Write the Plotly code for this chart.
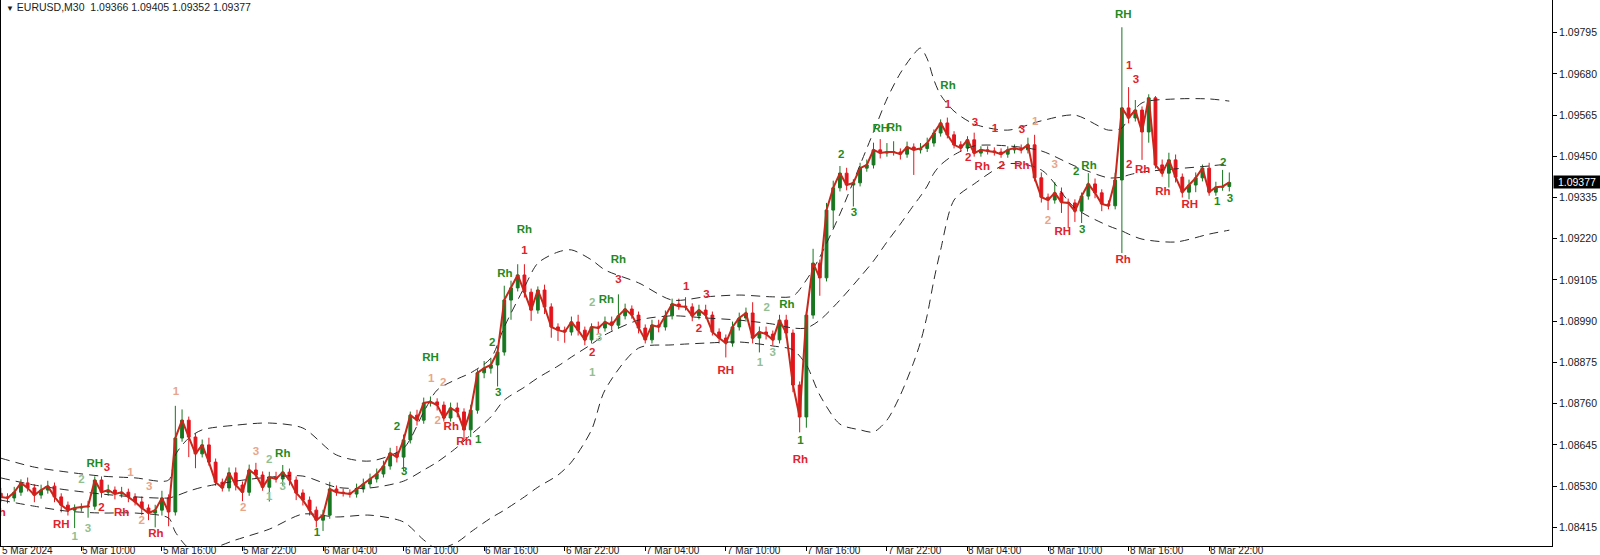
import plotly.graph_objects as go

# ---------------- data ----------------
first_open = 1.08510
closes = [
    1.08500, 1.08497, 1.08513, 1.08539, 1.08525, 1.08505, 1.08519, 1.08530, 1.08500, 1.08477,
    1.08463, 1.08469, 1.08472, 1.08474, 1.08547, 1.08513, 1.08519, 1.08508, 1.08513, 1.08500,
    1.08486, 1.08469, 1.08455, 1.08463, 1.08497, 1.08458, 1.08664, 1.08714, 1.08667, 1.08620,
    1.08645, 1.08597, 1.08541, 1.08525, 1.08567, 1.08533, 1.08513, 1.08575, 1.08561, 1.08527,
    1.08555, 1.08550, 1.08569, 1.08547, 1.08511, 1.08491, 1.08463, 1.08435, 1.08449, 1.08522,
    1.08513, 1.08511, 1.08508, 1.08522, 1.08536, 1.08550, 1.08564, 1.08586, 1.08622, 1.08611,
    1.08659, 1.08728, 1.08714, 1.08762, 1.08765, 1.08756, 1.08720, 1.08748, 1.08737, 1.08687,
    1.08742, 1.08846, 1.08859, 1.08868, 1.08904, 1.09049, 1.09083, 1.09119, 1.09071, 1.09021,
    1.09077, 1.09030, 1.08974, 1.08965, 1.08960, 1.08988, 1.08965, 1.08938, 1.08974, 1.08971,
    1.08988, 1.08979, 1.09005, 1.09024, 1.09007, 1.08971, 1.08938, 1.08979, 1.08974, 1.09005,
    1.09038, 1.09032, 1.09030, 1.09005, 1.09021, 1.09007, 1.08960, 1.08943, 1.08929, 1.08974,
    1.08999, 1.09013, 1.08943, 1.08960, 1.08954, 1.08938, 1.08993, 1.08957, 1.08812, 1.08723,
    1.09007, 1.09152, 1.09111, 1.09300, 1.09362, 1.09403, 1.09370, 1.09376, 1.09417, 1.09426,
    1.09468, 1.09459, 1.09462, 1.09462, 1.09456, 1.09476, 1.09468, 1.09472, 1.09487, 1.09515,
    1.09543, 1.09510, 1.09482, 1.09473, 1.09496, 1.09459, 1.09468, 1.09465, 1.09462, 1.09456,
    1.09468, 1.09473, 1.09468, 1.09482, 1.09390, 1.09336, 1.09328, 1.09348, 1.09322, 1.09320,
    1.09297, 1.09339, 1.09373, 1.09348, 1.09317, 1.09312, 1.09384, 1.09585, 1.09557, 1.09579,
    1.09518, 1.09613, 1.09426, 1.09403, 1.09440, 1.09392, 1.09350, 1.09370, 1.09390, 1.09417,
    1.09350, 1.09364, 1.09366, 1.09377,
]
upper_wick_pips = [
    1.5, 1.0, 1.5, 1.0, 1.5, 1.0, 1.5, 1.5, 1.0, 1.0,
    1.0, 1.0, 1.0, 1.5, 1.0, 1.0, 1.5, 1.0, 1.5, 1.0,
    1.0, 1.5, 1.0, 1.5, 2.0, 1.0, 9.0, 3.0, 1.0, 1.0,
    1.5, 2.0, 1.0, 1.0, 1.5, 1.5, 1.0, 1.5, 2.0, 1.0,
    1.5, 1.5, 2.0, 1.0, 1.0, 1.0, 1.0, 1.0, 1.5, 2.0,
    1.0, 1.0, 1.0, 1.5, 1.5, 1.5, 1.5, 1.5, 1.5, 2.0,
    1.5, 1.0, 1.5, 1.5, 1.5, 1.0, 1.0, 1.5, 1.5, 1.0,
    1.5, 1.0, 2.0, 2.0, 1.5, 4.0, 2.0, 3.0, 3.0, 1.0,
    1.0, 1.5, 1.0, 1.0, 1.0, 1.5, 2.0, 1.0, 1.0, 1.5,
    1.5, 1.5, 6.0, 1.5, 1.0, 1.0, 1.0, 1.5, 1.5, 1.5,
    1.5, 1.5, 2.5, 1.0, 1.5, 1.5, 1.0, 1.0, 1.0, 1.5,
    1.5, 1.5, 3.0, 1.5, 1.5, 1.0, 1.5, 1.5, 1.0, 1.0,
    1.0, 4.0, 1.0, 2.0, 2.0, 2.0, 1.5, 1.0, 1.5, 1.5,
    2.0, 3.0, 2.5, 3.0, 1.0, 1.5, 1.0, 1.5, 1.5, 1.0,
    1.0, 1.5, 1.0, 1.0, 1.0, 2.0, 1.0, 1.0, 1.0, 1.0,
    1.0, 1.0, 1.0, 2.0, 2.8, 1.5, 1.0, 3.0, 1.5, 1.0,
    1.0, 1.0, 3.0, 1.5, 1.0, 1.0, 2.0, 22.5, 5.8, 2.8,
    1.0, 1.0, 0.5, 1.5, 2.0, 1.5, 1.0, 1.5, 1.5, 1.0,
    1.5, 1.5, 4.6, 2.8,
]
lower_wick_pips = [
    1.5, 1.5, 1.0, 1.0, 1.0, 2.0, 1.0, 1.0, 1.5, 2.0,
    1.5, 5.0, 1.0, 3.0, 1.0, 1.5, 1.0, 1.5, 1.0, 1.5,
    1.0, 2.0, 2.0, 4.0, 1.5, 4.0, 1.0, 1.0, 5.6, 4.0,
    1.0, 1.0, 1.0, 1.0, 1.0, 1.5, 2.5, 1.0, 1.0, 1.0,
    4.0, 1.0, 2.0, 1.5, 2.0, 1.5, 1.5, 2.0, 3.0, 1.0,
    1.0, 1.0, 1.0, 1.0, 1.0, 1.0, 1.0, 1.0, 1.0, 1.5,
    4.0, 1.0, 1.5, 1.0, 1.0, 1.5, 1.0, 1.0, 1.5, 3.0,
    2.0, 1.0, 1.5, 1.5, 6.0, 1.0, 5.5, 1.0, 1.5, 3.0,
    1.0, 2.0, 3.0, 3.0, 3.0, 1.0, 1.5, 1.5, 1.0, 1.5,
    1.0, 1.5, 1.0, 1.0, 1.0, 1.5, 1.0, 1.0, 1.5, 1.0,
    1.0, 1.0, 1.0, 1.5, 1.0, 1.0, 1.0, 1.5, 4.0, 1.0,
    1.0, 1.0, 1.5, 4.0, 1.5, 1.5, 1.0, 1.5, 2.0, 4.3,
    3.0, 1.0, 5.0, 1.0, 5.0, 1.0, 1.5, 6.0, 1.0, 1.0,
    1.0, 1.5, 1.0, 1.0, 1.5, 1.0, 7.0, 1.0, 1.0, 1.0,
    1.0, 1.0, 1.0, 1.0, 1.0, 1.0, 1.0, 1.0, 1.0, 1.0,
    1.0, 1.0, 1.0, 1.0, 1.0, 1.5, 2.8, 1.0, 3.0, 7.0,
    3.0, 3.3, 1.0, 1.5, 2.0, 1.0, 1.0, 20.4, 1.5, 1.0,
    7.8, 3.0, 1.0, 1.0, 4.0, 1.5, 1.5, 2.0, 2.0, 1.0,
    1.0, 1.0, 1.0, 1.4,
]

band_bars = [0, 5, 10, 15, 20, 25, 26, 28, 30, 35, 40, 45, 50, 55, 60, 63, 65, 68, 70, 73,
             75, 78, 80, 83, 85, 88, 90, 95, 100, 105, 110, 115, 118, 120, 122, 125, 128, 130,
             132, 134, 136, 137, 138, 139, 140, 142, 145, 150, 155, 160, 165, 167, 168, 170,
             175, 180, 183]
band_upper = [1.08608, 1.08583, 1.08569, 1.08558, 1.08553, 1.08547,
              1.08617, 1.08664, 1.08687,
              1.08700, 1.08706, 1.08692, 1.08617, 1.08600, 1.08636,
              1.08737, 1.08798, 1.08829, 1.08846, 1.08887, 1.08974, 1.09085, 1.09152, 1.09183,
              1.09189, 1.09161, 1.09133,
              1.09097, 1.09049, 1.09058, 1.09063, 1.09058, 1.09060,
              1.09105, 1.09169, 1.09289, 1.09426, 1.09518, 1.09610, 1.09682, 1.09735, 1.09752,
              1.09722, 1.09663, 1.09621, 1.09576, 1.09540,
              1.09523, 1.09549, 1.09565, 1.09523, 1.09529, 1.09557, 1.09599, 1.09610, 1.09610,
              1.09604]
band_middle = [1.08553, 1.08533, 1.08519, 1.08508, 1.08500, 1.08497,
               1.08502, 1.08516, 1.08527,
               1.08544, 1.08555, 1.08558, 1.08527, 1.08525, 1.08544,
               1.08575, 1.08597, 1.08639, 1.08673, 1.08723, 1.08770, 1.08806, 1.08832, 1.08865,
               1.08890, 1.08926, 1.08952,
               1.08993, 1.09005, 1.08999, 1.08993, 1.08982, 1.08971,
               1.08971, 1.08993, 1.09049, 1.09113, 1.09158, 1.09211, 1.09261, 1.09314, 1.09339,
               1.09367, 1.09403, 1.09426, 1.09454, 1.09479,
               1.09479, 1.09465, 1.09423, 1.09390, 1.09392, 1.09398, 1.09406, 1.09415, 1.09423,
               1.09429]
band_lower = [1.08491, 1.08474, 1.08460, 1.08455, 1.08455, 1.08441,
              1.08402, 1.08357, 1.08349,
              1.08380, 1.08410, 1.08452, 1.08444, 1.08449, 1.08430,
              1.08380, 1.08355, 1.08374, 1.08402, 1.08441, 1.08463, 1.08500, 1.08527, 1.08561,
              1.08597, 1.08687, 1.08798,
              1.08915, 1.08924, 1.08929, 1.08932, 1.08921, 1.08910,
              1.08868, 1.08784, 1.08703, 1.08687, 1.08681, 1.08714, 1.08784, 1.08876, 1.08932,
              1.09007, 1.09105, 1.09189, 1.09328, 1.09373,
              1.09429, 1.09412, 1.09306, 1.09256, 1.09242, 1.09233, 1.09219, 1.09211, 1.09233,
              1.09244]

# signal labels: bar position, price, text, kind (G green, R red, S salmon, P pale green)
label_bars = [-0.4, 9, 11, 13, 12, 14, 15.8, 15, 19.3, 18, 22.1, 21, 23.1, 26.1, 38, 40, 42, 40, 42, 36.1,
              47.1, 59, 60.1, 64.0, 64.1, 65.9, 65.1, 67.1, 69, 71.1, 73.2, 74.1, 75.1, 78, 78, 92, 92,
              88.1, 90.2, 89.1, 88.1, 88.1, 102.1, 105.1, 104, 108, 114.1, 117.1, 113.1, 115, 119.1,
              119.1, 125.2, 127.1, 131.1, 133.1, 141.1, 141.1, 145.1, 148.1, 152.1, 154.1, 144.1,
              146.2, 149.1, 152.1, 157.0, 160.2, 162.1, 156, 158.2, 161.1, 167.2, 168.1, 169.1, 168.1,
              170.1, 167.2, 173.1, 177.1, 181.2, 183.1, 182.1]
label_prices = [1.08454, 1.08421, 1.08388, 1.08410, 1.08547, 1.08592, 1.08580, 1.08469, 1.08567, 1.08455,
                1.08527, 1.08433, 1.08396, 1.08793, 1.08625, 1.08603, 1.08620, 1.08500, 1.08527, 1.08469,
                1.08399, 1.08695, 1.08569, 1.08887, 1.08829, 1.08818, 1.08712, 1.08695, 1.08653, 1.08659,
                1.08929, 1.08790, 1.09122, 1.09244, 1.09186, 1.09161, 1.09105,
                1.09041, 1.09049, 1.08943, 1.08901, 1.08846, 1.09086, 1.09063, 1.08968, 1.08851, 1.09027,
                1.09035, 1.08873, 1.08901, 1.08656,
                1.08603, 1.09454, 1.09292, 1.09526, 1.09529, 1.09646, 1.09593, 1.09543, 1.09526, 1.09523,
                1.09546, 1.09445,
                1.09420, 1.09423, 1.09423, 1.09426, 1.09406, 1.09423, 1.09270, 1.09239, 1.09244, 1.09161,
                1.09702, 1.09663, 1.09426,
                1.09412, 1.09844, 1.09350, 1.09314, 1.09323, 1.09331, 1.09431]
label_texts = ["Rh", "RH", "1", "3", "2", "RH", "3", "2", "1", "Rh", "3", "2", "Rh", "1", "3", "2", "Rh", "1", "3", "2",
               "1", "2", "3", "RH", "1", "2", "2", "Rh", "Rh", "1", "2", "3", "Rh", "Rh", "1", "Rh", "3",
               "2", "Rh", "3", "2", "1", "1", "3", "2", "RH", "2", "Rh", "1", "3", "1",
               "Rh", "2", "3", "RH", "Rh", "Rh", "1", "3", "1", "3", "1", "2",
               "Rh", "2", "Rh", "3", "2", "Rh", "2", "RH", "3", "Rh", "1", "3", "2",
               "Rh", "RH", "Rh", "RH", "1", "3", "2"]
label_kinds = ["R", "R", "P", "P", "P", "G", "R", "R", "S", "R", "S", "S", "R", "S", "S", "P", "G", "P", "P", "S",
               "G", "G", "G", "G", "S", "S", "S", "R", "R", "G", "G", "G", "G", "G", "R", "G", "R",
               "P", "G", "P", "R", "P", "R", "R", "R", "R", "P", "G", "P", "P", "G",
               "R", "G", "G", "G", "G", "G", "R", "R", "R", "R", "S", "R",
               "R", "R", "R", "S", "G", "G", "S", "R", "G", "R", "R", "R", "R",
               "R", "G", "R", "R", "G", "G", "G"]

x_label_bars = [12, 24, 36, 48, 60, 72, 84, 96, 108, 120, 132, 144, 156, 168, 180]
x_label_texts = ["5 Mar 10:00", "5 Mar 16:00", "5 Mar 22:00", "6 Mar 04:00", "6 Mar 10:00",
                 "6 Mar 16:00", "6 Mar 22:00", "7 Mar 04:00", "7 Mar 10:00", "7 Mar 16:00",
                 "7 Mar 22:00", "8 Mar 04:00", "8 Mar 10:00", "8 Mar 16:00", "8 Mar 22:00"]
first_date_label = "5 Mar 2024"
price_ticks = [1.09795, 1.09680, 1.09565, 1.09450, 1.09335, 1.09220, 1.09105, 1.08990,
               1.08875, 1.08760, 1.08645, 1.08530, 1.08415]
last_price = 1.09377
title_text = "EURUSD,M30\u00a0\u00a01.09366 1.09405 1.09352 1.09377"

assert len(closes) == 184 and len(upper_wick_pips) == 184 and len(lower_wick_pips) == 184
assert len(band_bars) == len(band_upper) == len(band_middle) == len(band_lower)
assert len(label_bars) == len(label_prices) == len(label_texts) == len(label_kinds)

# ---------------- derived OHLC ----------------
bars = list(range(len(closes)))
opens = [first_open] + closes[:-1]
highs = [round(max(o, c) + u * 1e-4, 5) for o, c, u in zip(opens, closes, upper_wick_pips)]
lows = [round(min(o, c) - d * 1e-4, 5) for o, c, d in zip(opens, closes, lower_wick_pips)]

FONT = "Liberation Sans"
BULL = "#17761f"
BEAR = "#e3141c"
DASH_COLOR = "#2a2a2a"

fig = go.Figure()

for band in (band_upper, band_middle, band_lower):
    fig.add_trace(go.Scatter(
        x=band_bars, y=band, mode="lines",
        line=dict(color=DASH_COLOR, width=1, dash="9px,6px", shape="spline", smoothing=0.8),
        hoverinfo="skip", showlegend=False))

fig.add_trace(go.Candlestick(
    x=bars, open=opens, high=highs, low=lows, close=closes,
    increasing=dict(line=dict(color=BULL, width=1), fillcolor=BULL),
    decreasing=dict(line=dict(color=BEAR, width=1), fillcolor=BEAR),
    whiskerwidth=0, showlegend=False))

fig.add_trace(go.Scatter(
    x=bars, y=closes, mode="lines",
    line=dict(color="#c8281c", width=2),
    hoverinfo="skip", showlegend=False))

kind_colors = {"G": "#1f8a22", "R": "#e2222c", "S": "#e8a689", "P": "#92bf92"}
for kind, col in kind_colors.items():
    idx = [k for k, kd in enumerate(label_kinds) if kd == kind]
    fig.add_trace(go.Scatter(
        x=[label_bars[k] for k in idx],
        y=[label_prices[k] for k in idx],
        text=[label_texts[k] for k in idx],
        mode="text", textposition="middle center",
        textfont=dict(family=FONT, size=11.5, color=col, weight="bold"),
        hoverinfo="skip", showlegend=False))

annotations = []
# date labels (left aligned at their ticks)
annotations.append(dict(x=0, xref="paper", y=0, yref="paper", xanchor="left", yanchor="top",
                        text=first_date_label, showarrow=False, yshift=3, xshift=-1,
                        font=dict(family=FONT, size=10, color="#1a1a1a")))
for b, t in zip(x_label_bars, x_label_texts):
    annotations.append(dict(x=b, xref="x", y=0, yref="paper", xanchor="left", yanchor="top",
                            text=t, showarrow=False, yshift=3, xshift=-1,
                            font=dict(family=FONT, size=10, color="#1a1a1a")))
# current price box
annotations.append(dict(x=1, xref="paper", y=last_price, yref="y", xanchor="left", yanchor="middle",
                        text=f"{last_price:.5f}", showarrow=False, bgcolor="#000000",
                        font=dict(family=FONT, size=10.5, color="#ffffff"),
                        borderpad=0, width=46, align="center", xshift=1))
# title
annotations.append(dict(x=0, xref="paper", y=1, yref="paper", xanchor="left", yanchor="top",
                        text="<span style='font-size:8px'>\u25bc</span>\u00a0" + title_text,
                        showarrow=False, xshift=3, yshift=1,
                        font=dict(family=FONT, size=10.5, color="#1a1a1a")))

fig.update_layout(
    width=1600, height=555,
    margin=dict(l=1, r=48, t=0, b=9),
    paper_bgcolor="white", plot_bgcolor="white",
    boxgap=0.4,
    annotations=annotations,
    xaxis=dict(range=[0.03, 231.07], showgrid=False, zeroline=False,
               showline=True, linecolor="#000000", linewidth=1,
               tickmode="array", tickvals=x_label_bars, ticks="outside", ticklen=4,
               tickcolor="#000000", showticklabels=False,
               rangeslider=dict(visible=False), fixedrange=True),
    yaxis=dict(range=[1.08363, 1.09886], side="right", showgrid=False, zeroline=False,
               showline=True, linecolor="#000000", linewidth=1, mirror=True,
               tickmode="array", tickvals=price_ticks,
               ticktext=[f"{p:.5f}" for p in price_ticks],
               ticks="outside", ticklen=4, tickcolor="#000000",
               tickfont=dict(family=FONT, size=10.5, color="#1a1a1a")),
    showlegend=False,
)

fig.write_html(
    "out.html",
    config={"displayModeBar": False},
    post_script="document.documentElement.style.margin='0';document.body.style.margin='0';"
                "document.body.style.padding='0';document.body.style.overflow='hidden';",
)
